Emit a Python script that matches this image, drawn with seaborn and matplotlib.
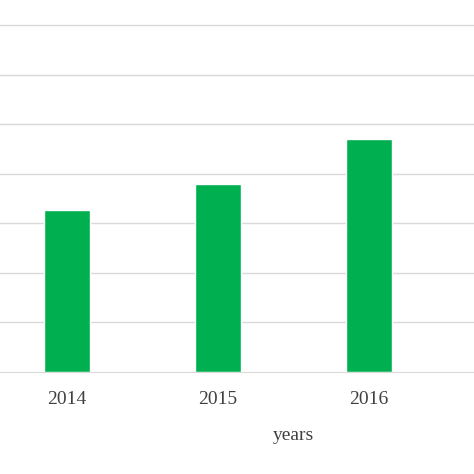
import matplotlib
matplotlib.use("Agg")
import matplotlib.pyplot as plt
import seaborn as sns
import pandas as pd

years = ["2014", "2015", "2016"]
values = [3.27, 3.79, 4.70]

sns.set_style("white")
plt.rcParams['font.family'] = ['Liberation Serif', 'DejaVu Serif']

fig = plt.figure(figsize=(4.74, 4.74), dpi=100)
ax = fig.add_axes([0, 1 - 372/474, 1, 372/474])
df = pd.DataFrame({"year": years, "value": values})
sns.barplot(data=df, x="year", y="value", color="#00B050", saturation=1, width=0.31, ax=ax)
ax.set_xlim(-67/151, (474-67)/151)
ax.set_ylim(0, 7 + 25/49.6)
ax.set_yticks(range(1, 8))
ax.yaxis.grid(True, color="#D9D9D9", linewidth=1)
ax.set_axisbelow(True)
ax.tick_params(axis="y", left=False, labelleft=False)
ax.tick_params(axis="x", bottom=False, labelsize=14, colors="#404040", pad=10)
for s in ["top", "right", "left"]:
    ax.spines[s].set_visible(False)
ax.spines["bottom"].set_color("#D9D9D9")
ax.set_ylabel("")
ax.set_xlabel("")
fig.text(293/474, 1 - 436/474, "years", ha="center", va="center", fontsize=14, color="#404040")
fig.savefig("out.png", dpi=100)
